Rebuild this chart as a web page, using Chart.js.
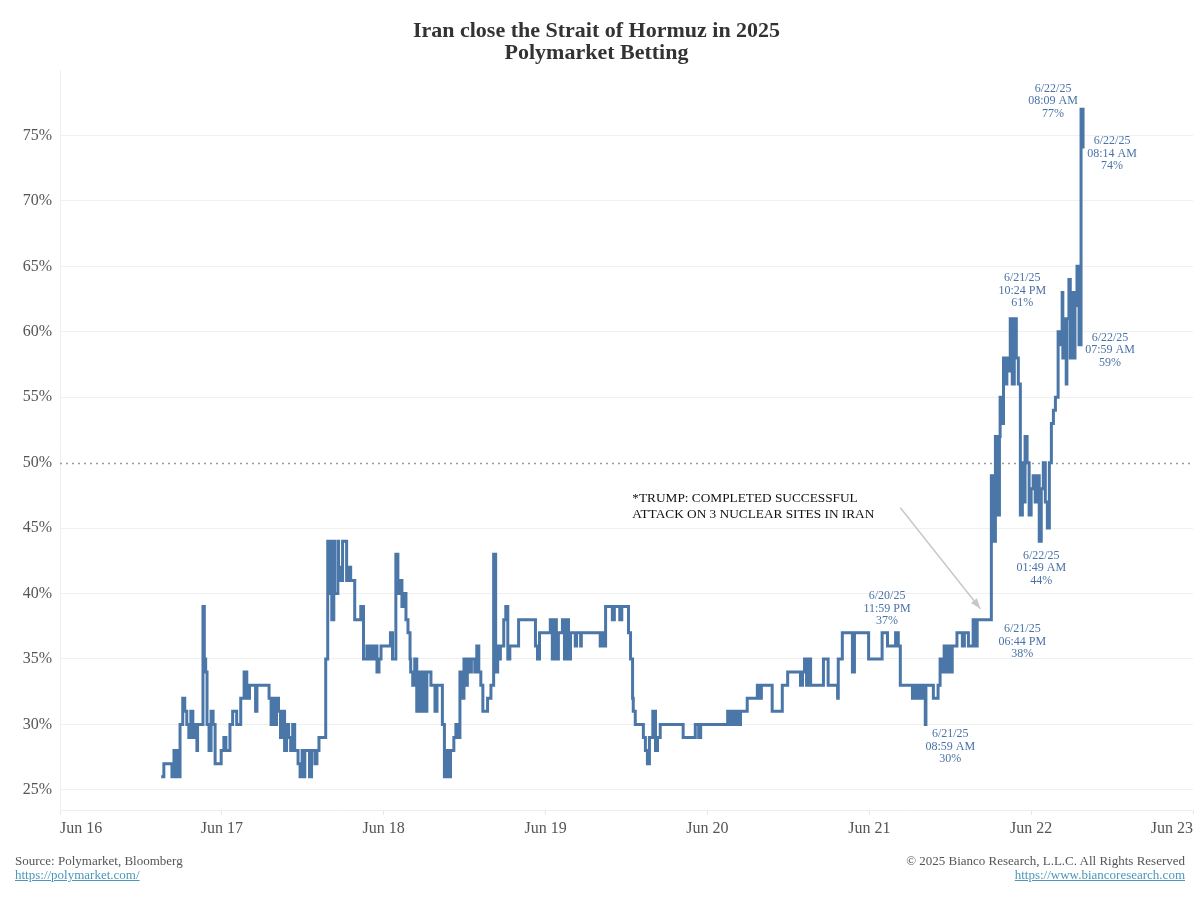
<!DOCTYPE html>
<html>
<head>
<meta charset="utf-8">
<script src="https://cdn.jsdelivr.net/npm/chart.js@4"></script>
<style>
  body { margin: 0; background: #fff; }
  #wrap { position: relative; width: 1200px; height: 900px; font-family: Georgia, "Liberation Serif", serif; }
  .foot { position: absolute; font-size: 13px; line-height: 14px; color: #555; }
  .foot a { color: #4a98b8; }
</style>
</head>
<body>
<div id="wrap">
  <canvas id="c" width="1200" height="900"></canvas>
  <div class="foot" style="left:15px; top:854px;">Source: Polymarket, Bloomberg<br><a href="#">https://polymarket.com/</a></div>
  <div class="foot" style="right:15px; top:854px; text-align:right;">© 2025 Bianco Research, L.L.C. All Rights Reserved<br><a href="#">https://www.biancoresearch.com</a></div>
</div>
<script>
const FONT = 'Georgia, "Liberation Serif", serif';

// hours since Jun 16 00:00, value (%) changes at that moment
const hours = [
  15.0, 15.4, 16.6, 16.9, 17.2, 17.5, 17.6, 17.8, 18.2, 18.5, 18.8, 19.1, 19.4, 19.7, 20.0, 20.3, 20.4,
  21.2, 21.4, 21.6, 21.8, 22.1, 22.4, 22.7, 23.0, 23.9, 24.3, 24.6, 25.2, 25.6, 26.2, 26.8, 27.3, 27.7,
  28.1, 29.0, 29.2, 31.0, 31.3, 31.6, 31.9, 32.1, 32.4, 32.7, 33.0, 33.3, 33.6, 33.9, 34.2, 34.5, 34.8,
  35.3, 35.6, 35.9, 36.1, 36.3, 37.0, 37.3, 37.8, 38.1, 38.4, 39.4, 39.7, 40.0, 40.1, 40.3, 40.6, 40.7,
  41.2, 41.3, 41.6, 41.9, 42.5, 42.8, 43.1, 43.7, 44.6, 45.0, 45.5, 45.8, 46.1, 46.4, 46.7, 47.0, 47.3,
  47.6, 49.0, 49.3, 49.8, 50.1, 50.4, 50.7, 51.0, 51.3, 51.6, 51.9, 52.0, 52.3, 52.6, 52.9, 53.2, 53.5,
  53.8, 54.1, 54.4, 55.0, 55.6, 55.9, 56.7, 57.0, 57.3, 57.6, 57.9, 58.4, 58.7, 59.0, 59.3, 59.6, 59.9,
  60.1, 60.4, 60.7, 61.0, 61.5, 61.8, 62.1, 62.4, 62.7, 63.4, 63.9, 64.3, 64.6, 64.9, 65.2, 65.3, 65.8,
  66.1, 66.4, 66.7, 68.0, 70.5, 70.8, 71.1, 72.7, 73.0, 73.3, 73.6, 73.9, 74.5, 74.8, 75.1, 75.4, 75.7,
  76.4, 76.6, 77.2, 77.3, 80.1, 80.4, 80.7, 80.9, 81.9, 82.2, 83.0, 83.3, 84.3, 84.6, 84.9, 85.0, 85.3,
  86.5, 86.8, 87.1, 87.4, 87.9, 88.3, 88.6, 89.0, 92.4, 94.2, 94.7, 95.0, 99.0, 99.3, 99.6, 99.9, 100.3,
  100.6, 100.9, 101.9, 103.4, 103.7, 104.0, 105.6, 107.1, 107.9, 109.8, 110.1, 110.4, 110.7, 111.0, 111.3,
  113.2, 113.9, 115.3, 115.4, 116.0, 117.5, 117.8, 119.9, 121.9, 122.7, 123.9, 124.3, 124.6, 126.4, 126.7,
  127.0, 127.3, 127.6, 127.9, 128.1, 128.3, 128.4, 129.5, 130.2, 130.5, 130.8, 131.1, 131.4, 131.7, 132.0,
  132.3, 133.0, 133.8, 134.1, 134.7, 135.4, 135.7, 136.0, 138.1, 138.4, 138.7, 139.0, 139.3, 139.4, 139.7,
  139.9, 140.1, 140.4, 140.6, 140.9, 141.2, 141.5, 141.8, 142.1, 142.4, 142.7, 142.8, 143.1, 143.4, 143.7,
  144.0, 144.3, 144.6, 144.9, 145.2, 145.5, 145.8, 146.1, 146.4, 146.7, 147.0, 147.3, 147.6, 148.0, 148.3,
  148.6, 148.7, 149.0, 149.2, 149.3, 149.6, 149.8, 150.1, 150.4, 150.5, 150.8, 151.1, 151.4, 151.7
];
const odds = [
  26, 27, 26, 28, 26, 28, 26, 30, 32, 31, 30, 29, 31, 29, 30, 28, 30,
  39, 35, 34, 30, 28, 31, 30, 27, 28, 29, 28, 30, 31, 30, 32, 34, 32,
  33, 31, 33, 32, 30, 32, 30, 32, 31, 29, 31, 28, 30, 29, 28, 30, 28,
  27, 26, 28, 26, 28, 26, 28, 27, 28, 29, 35, 44, 40, 44, 38, 44, 40,
  44, 42, 41, 44, 41, 42, 41, 38, 39, 35, 36, 35, 36, 35, 36, 34, 35,
  36, 37, 35, 43, 40, 41, 39, 40, 38, 37, 35, 34, 33, 35, 31, 34, 31,
  34, 31, 34, 33, 31, 33, 30, 26, 28, 26, 28, 29, 30, 29, 34, 32, 35,
  33, 35, 34, 35, 34, 36, 34, 33, 31, 32, 33, 43, 34, 36, 35, 36, 38,
  39, 35, 36, 38, 36, 35, 37, 38, 35, 38, 35, 37, 38, 35, 38, 35, 37,
  36, 37, 36, 37, 36, 37, 36, 39, 38, 39, 38, 39, 37, 35, 32, 31, 30,
  29, 28, 27, 29, 31, 28, 29, 30, 29, 30, 29, 30, 31, 30, 31, 30, 31,
  30, 31, 32, 33, 32, 33, 31, 33, 34, 33, 34, 35, 33, 35, 33,
  35, 33, 32, 35, 37, 34, 37, 35, 37, 36, 37, 36, 33, 32, 33,
  32, 33, 32, 33, 32, 30, 33, 32, 33, 35, 34, 36, 34, 36, 34,
  36, 37, 36, 37, 36, 38, 36, 38, 49, 44, 52, 46, 52, 55, 53,
  58, 56, 58, 57, 61, 56, 61, 58, 56, 46, 50, 47, 52, 50, 46,
  48, 49, 47, 49, 44, 48, 50, 47, 45, 50, 53, 54, 55, 60, 59,
  63, 58, 61, 56, 61, 64, 58, 63, 58, 62, 65, 59, 77, 74
];

const dayLabels = ["Jun 16", "Jun 17", "Jun 18", "Jun 19", "Jun 20", "Jun 21", "Jun 22", "Jun 23"];
const yTicks = [25, 30, 35, 40, 45, 50, 55, 60, 65, 70, 75];

// callouts: anchored at a data point [hours, value], text block shifted by dx/dy pixels
const callouts = [
  { at: [151.4, 77], dx: -28, dy: -8, lines: ["6/22/25", "08:09 AM", "77%"] },
  { at: [151.7, 74], dx: 29, dy: 5, lines: ["6/22/25", "08:14 AM", "74%"] },
  { at: [140.9, 61], dx: 12, dy: -28, lines: ["6/21/25", "10:24 PM", "61%"] },
  { at: [151.1, 59], dx: 31, dy: 5, lines: ["6/22/25", "07:59 AM", "59%"] },
  { at: [145.2, 44], dx: 2, dy: 27, lines: ["6/22/25", "01:49 AM", "44%"] },
  { at: [121.9, 37], dx: 5, dy: -24, lines: ["6/20/25", "11:59 PM", "37%"] },
  { at: [138.1, 38], dx: 31, dy: 22, lines: ["6/21/25", "06:44 PM", "38%"] },
  { at: [128.3, 30], dx: 25, dy: 22, lines: ["6/21/25", "08:59 AM", "30%"] }
];
const newsNote = ["*TRUMP: COMPLETED SUCCESSFUL", "ATTACK ON 3 NUCLEAR SITES IN IRAN"];
const newsPoint = [138.1, 38];

const extras = {
  id: "extras",
  beforeDatasetsDraw(chart) {
    const { ctx, chartArea, scales: { y } } = chart;
    const yy = Math.round(y.getPixelForValue(50)) + 0.5;
    ctx.save();
    ctx.strokeStyle = "#9a9a9a";
    ctx.lineWidth = 1.5;
    ctx.setLineDash([2, 4]);
    ctx.beginPath();
    ctx.moveTo(chartArea.left, yy);
    ctx.lineTo(chartArea.right, yy);
    ctx.stroke();
    ctx.restore();
  },
  afterDatasetsDraw(chart) {
    const { ctx, scales: { x, y } } = chart;
    ctx.save();
    ctx.fillStyle = "#4a72a6";
    ctx.font = "12px " + FONT;
    ctx.textAlign = "center";
    ctx.textBaseline = "middle";
    for (const c of callouts) {
      const px = x.getPixelForValue(c.at[0]) + c.dx;
      const py = y.getPixelForValue(c.at[1]) + c.dy;
      c.lines.forEach((t, i) => ctx.fillText(t, px, py + (i - 1) * 12.5));
    }
    // news note + arrow
    const px = x.getPixelForValue(newsPoint[0]);
    const py = y.getPixelForValue(newsPoint[1]);
    const tx = px - 11, ty = py - 11;
    const sx = tx - 80, sy = ty - 101;
    ctx.strokeStyle = "#c8c8c8";
    ctx.fillStyle = "#c8c8c8";
    ctx.lineWidth = 1.5;
    ctx.beginPath();
    ctx.moveTo(sx, sy);
    ctx.lineTo(tx, ty);
    ctx.stroke();
    const a = Math.atan2(ty - sy, tx - sx);
    ctx.beginPath();
    ctx.moveTo(tx, ty);
    ctx.lineTo(tx - 11 * Math.cos(a - 0.35), ty - 11 * Math.sin(a - 0.35));
    ctx.lineTo(tx - 11 * Math.cos(a + 0.35), ty - 11 * Math.sin(a + 0.35));
    ctx.closePath();
    ctx.fill();
    ctx.fillStyle = "#111";
    ctx.font = "13.3px " + FONT;
    ctx.textAlign = "left";
    newsNote.forEach((t, i) => ctx.fillText(t, px - 359, py - 121 + i * 16));
    ctx.restore();
  }
};

new Chart(document.getElementById("c"), {
  type: "line",
  data: {
    datasets: [{
      data: hours.map((h, i) => ({ x: h, y: odds[i] })),
      borderColor: "#4a76a8",
      borderWidth: 3,
      pointRadius: 0,
      stepped: true,
      fill: false
    }]
  },
  options: {
    responsive: false,
    animation: false,
    layout: { padding: { left: 0, right: 7, bottom: 58, top: 0 } },
    plugins: {
      legend: { display: false },
      tooltip: { enabled: false },
      title: {
        display: true,
        text: ["Iran close the Strait of Hormuz in 2025", "Polymarket Betting"],
        color: "#333",
        font: { family: FONT, size: 22, weight: "bold", lineHeight: 1.0 },
        padding: { top: 20, bottom: 6 }
      }
    },
    scales: {
      x: {
        type: "linear",
        min: 0,
        max: 168,
        grid: { display: true, drawOnChartArea: false, drawTicks: true, tickLength: 4, color: "#e6e6e6" },
        border: { color: "#eeeeee" },
        ticks: {
          stepSize: 24,
          align: "inner",
          maxRotation: 0,
          padding: 4,
          color: "#555",
          font: { family: FONT, size: 16 },
          callback: (v) => dayLabels[v / 24]
        }
      },
      y: {
        min: 23.4,
        max: 80,
        afterBuildTicks: (s) => { s.ticks = yTicks.map(v => ({ value: v })); },
        afterFit: (s) => { s.width = 60; },
        grid: {
          drawTicks: false,
          color: (c) => (c.tick && c.tick.value === 50) ? "rgba(0,0,0,0)" : "#f0f0f0"
        },
        border: { color: "#eeeeee" },
        ticks: {
          padding: 8,
          color: "#555",
          font: { family: FONT, size: 16 },
          callback: (v) => v + "%"
        }
      }
    }
  },
  plugins: [extras]
});
</script>
</body>
</html>
